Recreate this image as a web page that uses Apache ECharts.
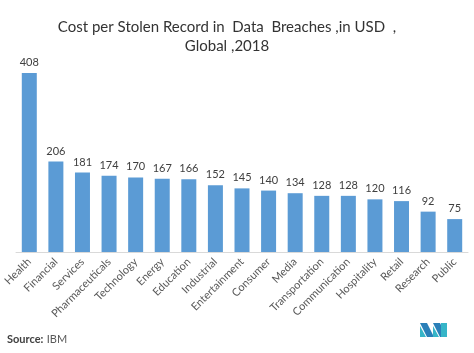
<!DOCTYPE html>
<html>
<head>
<meta charset="utf-8">
<script src="https://cdn.jsdelivr.net/npm/echarts@6/dist/echarts.min.js"></script>
<style>
  html, body { margin: 0; padding: 0; background: #fff; }
  #chart { width: 474px; height: 353px; }
</style>
</head>
<body>
<div id="chart"></div>
<script>
// sectors and cost per record (USD)
var sectors = ['Health', 'Financial', 'Services', 'Pharmaceuticals', 'Technology', 'Energy', 'Education',
  'Industrial', 'Entertainment', 'Consumer', 'Media', 'Transportation', 'Communication', 'Hospitality',
  'Retail', 'Research', 'Public'];
var costs = [408, 206, 181, 174, 170, 167, 166, 152, 145, 140, 134, 128, 128, 120, 116, 92, 75];

var chart = echarts.init(document.getElementById('chart'));
var option = {
  backgroundColor: '#fff',
  animation: false,
  title: {
    text: 'Cost per Stolen Record in  Data  Breaches ,in USD  ,\nGlobal ,2018',
    left: 222,
    top: 13,
    textAlign: 'center',
    textStyle: {
      fontFamily: 'Lato',
      fontWeight: 'normal',
      fontSize: 15,
      lineHeight: 19,
      color: '#333'
    }
  },
  grid: {
    left: 16,
    right: 6,
    top: 73,
    bottom: 101,
    containLabel: false
  },
  xAxis: {
    type: 'category',
    data: sectors,
    axisLine: { lineStyle: { color: '#d9d9d9', width: 1 } },
    axisTick: { show: false },
    axisLabel: {
      rotate: 45,
      interval: 0,
      color: '#595959',
      fontFamily: 'Lato',
      fontSize: 11,
      margin: 8
    }
  },
  yAxis: {
    type: 'value',
    min: 0,
    max: 408,
    show: false,
    splitLine: { show: false }
  },
  series: [{
    type: 'bar',
    data: costs,
    barWidth: 15,
    itemStyle: { color: '#5b9bd5' },
    label: {
      show: true,
      position: 'top',
      distance: 5,
      color: '#404040',
      fontFamily: 'Lato',
      fontSize: 11
    }
  }],
  graphic: [
    {
      type: 'text',
      left: 7,
      top: 333,
      style: {
        rich: {
          b: { fontWeight: 'bold', fontSize: 11, fill: '#404040', fontFamily: 'Lato' },
          n: { fontSize: 11, fill: '#595959', fontFamily: 'Lato' }
        },
        text: '{b|Source:} {n|IBM}'
      }
    },
    // logo
    { type: 'polygon', shape: { points: [[420, 323], [427, 323], [434, 337], [427, 337]] }, style: { fill: '#2a7fb8' } },
    { type: 'polygon', shape: { points: [[420, 326], [426, 337], [420, 337]] }, style: { fill: '#36b5c8' } },
    { type: 'polygon', shape: { points: [[433, 323], [440, 323], [447, 337], [440, 337]] }, style: { fill: '#2a7fb8' } },
    { type: 'polygon', shape: { points: [[433, 326], [439, 337], [433, 337]] }, style: { fill: '#36b5c8' } },
    { type: 'rect', shape: { x: 441, y: 323, width: 6, height: 14 }, style: { fill: '#36b5c8' } }
  ]
};
chart.setOption(option);
</script>
</body>
</html>
